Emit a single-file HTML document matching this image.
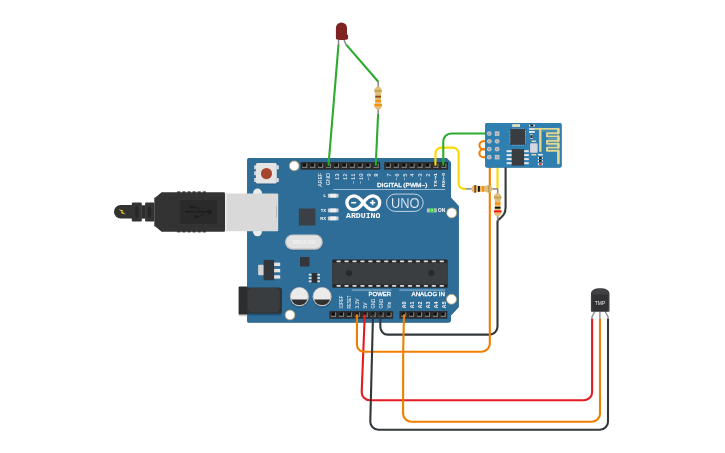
<!DOCTYPE html>
<html lang="en"><head><meta charset="utf-8"><title>Arduino ESP8266 TMP circuit</title>
<style>html,body{margin:0;padding:0;background:#fff;}body{width:725px;height:453px;overflow:hidden;}svg{display:block;will-change:transform;}text{font-family:'Liberation Sans', sans-serif;}</style>
</head><body>
<svg width="725" height="453" viewBox="0 0 725 453">
<rect width="725" height="453" fill="#fff"/>
<g id="usb">
<path d="M132,205.1 L120.7,205.1 A6.75,6.75 0 0 0 120.7,218.6 L132,218.6 Z" fill="#323232"/>
<path d="M118.56,209.13 L123.20,210.54 L122.22,211.66 L125.76,214.47 L121.00,212.92 L121.98,211.80 Z" fill="#f9e616"/>
<rect x="131.8" y="202.6" width="10" height="18.9" rx="1.2" fill="#333333"/>
<rect x="141.5" y="205.3" width="4" height="13.3" fill="#2c2c2c"/>
<rect x="145.1" y="202.6" width="9.3" height="18.9" rx="1.2" fill="#333333"/>
<ellipse cx="136.6" cy="212.0" rx="1.7" ry="6.2" fill="#262626"/>
<ellipse cx="149.6" cy="212.0" rx="1.7" ry="6.2" fill="#262626"/>
<path d="M154.3,197.6 L155.4,197.4 L161.6,192.2 L223.8,192.2 Q225,192.2 225,193.4 L225,230.6 Q225,231.8 223.8,231.8 L161.6,231.8 L155.4,226.6 L154.3,226.4 Z" fill="#333333"/>
<rect x="177.2" y="191.4" width="3.2" height="1.6" fill="#333333"/>
<rect x="177.2" y="230.8" width="3.2" height="1.6" fill="#333333"/>
<rect x="182.3" y="191.4" width="3.2" height="1.6" fill="#333333"/>
<rect x="182.3" y="230.8" width="3.2" height="1.6" fill="#333333"/>
<rect x="187.4" y="191.4" width="3.2" height="1.6" fill="#333333"/>
<rect x="187.4" y="230.8" width="3.2" height="1.6" fill="#333333"/>
<rect x="192.5" y="191.4" width="3.2" height="1.6" fill="#333333"/>
<rect x="192.5" y="230.8" width="3.2" height="1.6" fill="#333333"/>
<rect x="197.6" y="191.4" width="3.2" height="1.6" fill="#333333"/>
<rect x="197.6" y="230.8" width="3.2" height="1.6" fill="#333333"/>
<rect x="202.7" y="191.4" width="3.2" height="1.6" fill="#333333"/>
<rect x="202.7" y="230.8" width="3.2" height="1.6" fill="#333333"/>
<rect x="180" y="200.1" width="37.1" height="23.9" fill="#2a2a2a"/>
<g stroke="#1d1d1d" stroke-width="1.1" fill="none" stroke-linejoin="round" stroke-linecap="round"><path d="M186.4,211.8 L208,211.8"/><path d="M201.8,211.8 C199.4,211.8 198.6,207.4 195.6,207.3 L191.6,207.2"/><path d="M205.6,211.8 C203.0,211.8 202.6,216.4 199.6,216.5 L196,216.6"/></g>
<path d="M184.8,211.8 L187.4,210.5 L187.4,213.1 Z" fill="#1d1d1d"/>
<circle cx="209.6" cy="211.8" r="2.4" fill="#1d1d1d"/>
<circle cx="191.4" cy="207.1" r="1.5" fill="#1d1d1d"/>
<circle cx="195.8" cy="216.7" r="1.6" fill="#1d1d1d"/>
</g>
<g id="arduino">
<path d="M248.7,157.9 L446.8,157.9 L451.0,162.3 L451.0,197.6 L458.7,205.8 L458.7,306.4 L451.0,314.6 L451.0,319.0 Q451.0,322.0 448.0,322.0 L248.7,322.0 Q247.2,322.0 247.2,320.5 L247.2,159.4 Q247.2,157.9 248.7,157.9 Z" fill="#24587e" transform="translate(0 0.8)"/>
<path d="M248.7,157.9 L446.8,157.9 L451.0,162.3 L451.0,197.6 L458.7,205.8 L458.7,306.4 L451.0,314.6 L451.0,319.0 Q451.0,322.0 448.0,322.0 L248.7,322.0 Q247.2,322.0 247.2,320.5 L247.2,159.4 Q247.2,157.9 248.7,157.9 Z" fill="#2f6d99"/>
<circle cx="294.2" cy="165.9" r="4.9" fill="#fff" stroke="#b3a066" stroke-width="0.8"/>
<circle cx="451.7" cy="212.9" r="5.0" fill="#fff" stroke="#b3a066" stroke-width="0.8"/>
<circle cx="451.5" cy="299.3" r="5.0" fill="#fff" stroke="#b3a066" stroke-width="0.8"/>
<circle cx="290.0" cy="315.0" r="4.9" fill="#fff" stroke="#b3a066" stroke-width="0.8"/>
<ellipse cx="257.5" cy="193.2" rx="4.5" ry="4.7" fill="#ececec"/>
<ellipse cx="257.5" cy="231.6" rx="4.5" ry="4.7" fill="#ececec"/>
<rect x="254.2" y="165.3" width="2.4" height="4.0" rx="0.6" fill="#e2e2e2"/>
<rect x="254.2" y="171.2" width="2.4" height="4.0" rx="0.6" fill="#e2e2e2"/>
<rect x="254.2" y="178.0" width="2.4" height="4.0" rx="0.6" fill="#e2e2e2"/>
<rect x="276.2" y="165.3" width="2.6" height="4.0" rx="0.6" fill="#e2e2e2"/>
<rect x="276.2" y="178.0" width="2.6" height="4.0" rx="0.6" fill="#e2e2e2"/>
<rect x="255.9" y="163.9" width="20.9" height="20.5" rx="1.6" fill="#255a80"/>
<rect x="255.9" y="163.1" width="20.9" height="20.5" rx="1.6" fill="#e4e4e4"/>
<circle cx="266.5" cy="174.0" r="5.5" fill="#c9c9c9"/>
<circle cx="266.5" cy="173.5" r="5.5" fill="#a5452d"/>
<rect x="300.60" y="162.10" width="79.60" height="7.6" fill="#2b2b2b"/><rect x="301.96" y="163.30" width="5.3" height="4.7" fill="#343434"/><rect x="302.96" y="163.60" width="3.3" height="3.3" fill="#0e0e0e"/><path d="M302.17,167.40 L306.76,167.40 L306.76,163.60" fill="none" stroke="#7b7b7b" stroke-width="1.1"/><rect x="309.89" y="163.30" width="5.3" height="4.7" fill="#343434"/><rect x="310.89" y="163.60" width="3.3" height="3.3" fill="#0e0e0e"/><path d="M310.10,167.40 L314.69,167.40 L314.69,163.60" fill="none" stroke="#7b7b7b" stroke-width="1.1"/><rect x="317.82" y="163.30" width="5.3" height="4.7" fill="#343434"/><rect x="318.82" y="163.60" width="3.3" height="3.3" fill="#0e0e0e"/><path d="M318.03,167.40 L322.62,167.40 L322.62,163.60" fill="none" stroke="#7b7b7b" stroke-width="1.1"/><rect x="325.75" y="163.30" width="5.3" height="4.7" fill="#343434"/><rect x="326.75" y="163.60" width="3.3" height="3.3" fill="#0e0e0e"/><path d="M325.96,167.40 L330.56,167.40 L330.56,163.60" fill="none" stroke="#7b7b7b" stroke-width="1.1"/><rect x="333.69" y="163.30" width="5.3" height="4.7" fill="#343434"/><rect x="334.69" y="163.60" width="3.3" height="3.3" fill="#0e0e0e"/><path d="M333.89,167.40 L338.49,167.40 L338.49,163.60" fill="none" stroke="#7b7b7b" stroke-width="1.1"/><rect x="341.62" y="163.30" width="5.3" height="4.7" fill="#343434"/><rect x="342.62" y="163.60" width="3.3" height="3.3" fill="#0e0e0e"/><path d="M341.82,167.40 L346.42,167.40 L346.42,163.60" fill="none" stroke="#7b7b7b" stroke-width="1.1"/><rect x="349.55" y="163.30" width="5.3" height="4.7" fill="#343434"/><rect x="350.55" y="163.60" width="3.3" height="3.3" fill="#0e0e0e"/><path d="M349.75,167.40 L354.35,167.40 L354.35,163.60" fill="none" stroke="#7b7b7b" stroke-width="1.1"/><rect x="357.48" y="163.30" width="5.3" height="4.7" fill="#343434"/><rect x="358.48" y="163.60" width="3.3" height="3.3" fill="#0e0e0e"/><path d="M357.68,167.40 L362.28,167.40 L362.28,163.60" fill="none" stroke="#7b7b7b" stroke-width="1.1"/><rect x="365.40" y="163.30" width="5.3" height="4.7" fill="#343434"/><rect x="366.40" y="163.60" width="3.3" height="3.3" fill="#0e0e0e"/><path d="M365.61,167.40 L370.20,167.40 L370.20,163.60" fill="none" stroke="#7b7b7b" stroke-width="1.1"/><rect x="373.33" y="163.30" width="5.3" height="4.7" fill="#343434"/><rect x="374.33" y="163.60" width="3.3" height="3.3" fill="#0e0e0e"/><path d="M373.54,167.40 L378.13,167.40 L378.13,163.60" fill="none" stroke="#7b7b7b" stroke-width="1.1"/>
<rect x="384.20" y="162.10" width="63.74" height="7.6" fill="#2b2b2b"/><rect x="385.56" y="163.30" width="5.3" height="4.7" fill="#343434"/><rect x="386.56" y="163.60" width="3.3" height="3.3" fill="#0e0e0e"/><path d="M385.76,167.40 L390.36,167.40 L390.36,163.60" fill="none" stroke="#7b7b7b" stroke-width="1.1"/><rect x="393.49" y="163.30" width="5.3" height="4.7" fill="#343434"/><rect x="394.49" y="163.60" width="3.3" height="3.3" fill="#0e0e0e"/><path d="M393.69,167.40 L398.29,167.40 L398.29,163.60" fill="none" stroke="#7b7b7b" stroke-width="1.1"/><rect x="401.42" y="163.30" width="5.3" height="4.7" fill="#343434"/><rect x="402.42" y="163.60" width="3.3" height="3.3" fill="#0e0e0e"/><path d="M401.62,167.40 L406.22,167.40 L406.22,163.60" fill="none" stroke="#7b7b7b" stroke-width="1.1"/><rect x="409.35" y="163.30" width="5.3" height="4.7" fill="#343434"/><rect x="410.35" y="163.60" width="3.3" height="3.3" fill="#0e0e0e"/><path d="M409.56,167.40 L414.15,167.40 L414.15,163.60" fill="none" stroke="#7b7b7b" stroke-width="1.1"/><rect x="417.28" y="163.30" width="5.3" height="4.7" fill="#343434"/><rect x="418.28" y="163.60" width="3.3" height="3.3" fill="#0e0e0e"/><path d="M417.49,167.40 L422.08,167.40 L422.08,163.60" fill="none" stroke="#7b7b7b" stroke-width="1.1"/><rect x="425.21" y="163.30" width="5.3" height="4.7" fill="#343434"/><rect x="426.21" y="163.60" width="3.3" height="3.3" fill="#0e0e0e"/><path d="M425.42,167.40 L430.01,167.40 L430.01,163.60" fill="none" stroke="#7b7b7b" stroke-width="1.1"/><rect x="433.14" y="163.30" width="5.3" height="4.7" fill="#343434"/><rect x="434.14" y="163.60" width="3.3" height="3.3" fill="#0e0e0e"/><path d="M433.35,167.40 L437.94,167.40 L437.94,163.60" fill="none" stroke="#7b7b7b" stroke-width="1.1"/><rect x="441.07" y="163.30" width="5.3" height="4.7" fill="#343434"/><rect x="442.07" y="163.60" width="3.3" height="3.3" fill="#0e0e0e"/><path d="M441.27,167.40 L445.87,167.40 L445.87,163.60" fill="none" stroke="#7b7b7b" stroke-width="1.1"/>
<rect x="329.40" y="311.10" width="63.74" height="7.6" fill="#2b2b2b"/><rect x="330.76" y="312.30" width="5.3" height="4.7" fill="#343434"/><rect x="331.76" y="312.60" width="3.3" height="3.3" fill="#0e0e0e"/><path d="M330.96,316.40 L335.56,316.40 L335.56,312.60" fill="none" stroke="#7b7b7b" stroke-width="1.1"/><rect x="338.69" y="312.30" width="5.3" height="4.7" fill="#343434"/><rect x="339.69" y="312.60" width="3.3" height="3.3" fill="#0e0e0e"/><path d="M338.89,316.40 L343.49,316.40 L343.49,312.60" fill="none" stroke="#7b7b7b" stroke-width="1.1"/><rect x="346.62" y="312.30" width="5.3" height="4.7" fill="#343434"/><rect x="347.62" y="312.60" width="3.3" height="3.3" fill="#0e0e0e"/><path d="M346.82,316.40 L351.42,316.40 L351.42,312.60" fill="none" stroke="#7b7b7b" stroke-width="1.1"/><rect x="354.55" y="312.30" width="5.3" height="4.7" fill="#343434"/><rect x="355.55" y="312.60" width="3.3" height="3.3" fill="#0e0e0e"/><path d="M354.75,316.40 L359.35,316.40 L359.35,312.60" fill="none" stroke="#7b7b7b" stroke-width="1.1"/><rect x="362.48" y="312.30" width="5.3" height="4.7" fill="#343434"/><rect x="363.48" y="312.60" width="3.3" height="3.3" fill="#0e0e0e"/><path d="M362.69,316.40 L367.28,316.40 L367.28,312.60" fill="none" stroke="#7b7b7b" stroke-width="1.1"/><rect x="370.41" y="312.30" width="5.3" height="4.7" fill="#343434"/><rect x="371.41" y="312.60" width="3.3" height="3.3" fill="#0e0e0e"/><path d="M370.62,316.40 L375.21,316.40 L375.21,312.60" fill="none" stroke="#7b7b7b" stroke-width="1.1"/><rect x="378.34" y="312.30" width="5.3" height="4.7" fill="#343434"/><rect x="379.34" y="312.60" width="3.3" height="3.3" fill="#0e0e0e"/><path d="M378.55,316.40 L383.14,316.40 L383.14,312.60" fill="none" stroke="#7b7b7b" stroke-width="1.1"/><rect x="386.27" y="312.30" width="5.3" height="4.7" fill="#343434"/><rect x="387.27" y="312.60" width="3.3" height="3.3" fill="#0e0e0e"/><path d="M386.48,316.40 L391.07,316.40 L391.07,312.60" fill="none" stroke="#7b7b7b" stroke-width="1.1"/>
<rect x="399.50" y="311.10" width="47.88" height="7.6" fill="#2b2b2b"/><rect x="400.86" y="312.30" width="5.3" height="4.7" fill="#343434"/><rect x="401.86" y="312.60" width="3.3" height="3.3" fill="#0e0e0e"/><path d="M401.06,316.40 L405.66,316.40 L405.66,312.60" fill="none" stroke="#7b7b7b" stroke-width="1.1"/><rect x="408.79" y="312.30" width="5.3" height="4.7" fill="#343434"/><rect x="409.79" y="312.60" width="3.3" height="3.3" fill="#0e0e0e"/><path d="M409.00,316.40 L413.59,316.40 L413.59,312.60" fill="none" stroke="#7b7b7b" stroke-width="1.1"/><rect x="416.72" y="312.30" width="5.3" height="4.7" fill="#343434"/><rect x="417.72" y="312.60" width="3.3" height="3.3" fill="#0e0e0e"/><path d="M416.93,316.40 L421.52,316.40 L421.52,312.60" fill="none" stroke="#7b7b7b" stroke-width="1.1"/><rect x="424.65" y="312.30" width="5.3" height="4.7" fill="#343434"/><rect x="425.65" y="312.60" width="3.3" height="3.3" fill="#0e0e0e"/><path d="M424.86,316.40 L429.45,316.40 L429.45,312.60" fill="none" stroke="#7b7b7b" stroke-width="1.1"/><rect x="432.58" y="312.30" width="5.3" height="4.7" fill="#343434"/><rect x="433.58" y="312.60" width="3.3" height="3.3" fill="#0e0e0e"/><path d="M432.79,316.40 L437.38,316.40 L437.38,312.60" fill="none" stroke="#7b7b7b" stroke-width="1.1"/><rect x="440.51" y="312.30" width="5.3" height="4.7" fill="#343434"/><rect x="441.51" y="312.60" width="3.3" height="3.3" fill="#0e0e0e"/><path d="M440.72,316.40 L445.31,316.40 L445.31,312.60" fill="none" stroke="#7b7b7b" stroke-width="1.1"/>
<text transform="translate(320.43 173.00) rotate(-90)" font-size="5.1" font-weight="normal" text-anchor="end" fill="#fff" dy="0.36em" textLength="13.8" lengthAdjust="spacingAndGlyphs">AREF</text>
<text transform="translate(328.36 173.00) rotate(-90)" font-size="5.1" font-weight="normal" text-anchor="end" fill="#fff" dy="0.36em" textLength="12.2" lengthAdjust="spacingAndGlyphs">GND</text>
<text transform="translate(336.79 173.40) rotate(-90)" style="font-family:'Liberation Mono',monospace" font-size="5.6" font-weight="normal" text-anchor="end" fill="#fff" dy="0.36em">13</text>
<text transform="translate(344.72 173.40) rotate(-90)" style="font-family:'Liberation Mono',monospace" font-size="5.6" font-weight="normal" text-anchor="end" fill="#fff" dy="0.36em">12</text>
<text transform="translate(352.65 173.40) rotate(-90)" style="font-family:'Liberation Mono',monospace" font-size="5.6" font-weight="normal" text-anchor="end" fill="#fff" dy="0.36em">11</text>
<text transform="translate(360.58 173.40) rotate(-90)" style="font-family:'Liberation Mono',monospace" font-size="5.6" font-weight="normal" text-anchor="end" fill="#fff" dy="0.36em">10</text>
<text transform="translate(368.50 173.40) rotate(-90)" style="font-family:'Liberation Mono',monospace" font-size="5.6" font-weight="normal" text-anchor="end" fill="#fff" dy="0.36em">9</text>
<text transform="translate(376.44 173.40) rotate(-90)" style="font-family:'Liberation Mono',monospace" font-size="5.6" font-weight="normal" text-anchor="end" fill="#fff" dy="0.36em">8</text>
<text transform="translate(352.65 183.90) rotate(-90)" font-size="5.2" font-weight="normal" text-anchor="start" fill="#fff" dy="0.36em">~</text>
<text transform="translate(360.58 183.90) rotate(-90)" font-size="5.2" font-weight="normal" text-anchor="start" fill="#fff" dy="0.36em">~</text>
<text transform="translate(368.50 180.40) rotate(-90)" font-size="5.2" font-weight="normal" text-anchor="start" fill="#fff" dy="0.36em">~</text>
<text transform="translate(388.66 173.40) rotate(-90)" style="font-family:'Liberation Mono',monospace" font-size="5.6" font-weight="normal" text-anchor="end" fill="#fff" dy="0.36em">7</text>
<text transform="translate(396.59 173.40) rotate(-90)" style="font-family:'Liberation Mono',monospace" font-size="5.6" font-weight="normal" text-anchor="end" fill="#fff" dy="0.36em">6</text>
<text transform="translate(404.52 173.40) rotate(-90)" style="font-family:'Liberation Mono',monospace" font-size="5.6" font-weight="normal" text-anchor="end" fill="#fff" dy="0.36em">5</text>
<text transform="translate(412.45 173.40) rotate(-90)" style="font-family:'Liberation Mono',monospace" font-size="5.6" font-weight="normal" text-anchor="end" fill="#fff" dy="0.36em">4</text>
<text transform="translate(420.38 173.40) rotate(-90)" style="font-family:'Liberation Mono',monospace" font-size="5.6" font-weight="normal" text-anchor="end" fill="#fff" dy="0.36em">3</text>
<text transform="translate(428.31 173.40) rotate(-90)" style="font-family:'Liberation Mono',monospace" font-size="5.6" font-weight="normal" text-anchor="end" fill="#fff" dy="0.36em">2</text>
<text transform="translate(396.59 180.40) rotate(-90)" font-size="5.2" font-weight="normal" text-anchor="start" fill="#fff" dy="0.36em">~</text>
<text transform="translate(404.52 180.40) rotate(-90)" font-size="5.2" font-weight="normal" text-anchor="start" fill="#fff" dy="0.36em">~</text>
<text transform="translate(420.38 180.40) rotate(-90)" font-size="5.2" font-weight="normal" text-anchor="start" fill="#fff" dy="0.36em">~</text>
<text transform="translate(435.75 173.00) rotate(-90)" font-size="4.4" font-weight="bold" text-anchor="end" fill="#fff" dy="0.36em" textLength="14.0" lengthAdjust="spacingAndGlyphs">TX<tspan style="font-family:'DejaVu Sans',sans-serif" font-size="4.4">→</tspan>1</text>
<text transform="translate(443.67 173.00) rotate(-90)" font-size="4.4" font-weight="bold" text-anchor="end" fill="#fff" dy="0.36em" textLength="14.0" lengthAdjust="spacingAndGlyphs">RX<tspan style="font-family:'DejaVu Sans',sans-serif" font-size="4.4">←</tspan>0</text>
<text transform="translate(341.29 308.40) rotate(-90)" font-size="4.9" font-weight="normal" text-anchor="start" fill="#fff" fill-opacity="0.92" dy="0.36em" textLength="12.8" lengthAdjust="spacingAndGlyphs">IOREF</text>
<text transform="translate(349.22 308.40) rotate(-90)" font-size="4.9" font-weight="normal" text-anchor="start" fill="#fff" fill-opacity="0.92" dy="0.36em" textLength="12.8" lengthAdjust="spacingAndGlyphs">RESET</text>
<text transform="translate(357.15 308.40) rotate(-90)" font-size="4.9" font-weight="normal" text-anchor="start" fill="#fff" fill-opacity="0.92" dy="0.36em" textLength="9.9" lengthAdjust="spacingAndGlyphs">3.3V</text>
<text transform="translate(365.08 308.40) rotate(-90)" font-size="4.9" font-weight="normal" text-anchor="start" fill="#fff" fill-opacity="0.92" dy="0.36em" textLength="5.9" lengthAdjust="spacingAndGlyphs">5V</text>
<text transform="translate(373.01 308.40) rotate(-90)" font-size="4.9" font-weight="normal" text-anchor="start" fill="#fff" fill-opacity="0.92" dy="0.36em" textLength="9.6" lengthAdjust="spacingAndGlyphs">GND</text>
<text transform="translate(380.94 308.40) rotate(-90)" font-size="4.9" font-weight="normal" text-anchor="start" fill="#fff" fill-opacity="0.92" dy="0.36em" textLength="9.6" lengthAdjust="spacingAndGlyphs">GND</text>
<text transform="translate(388.88 308.40) rotate(-90)" font-size="4.9" font-weight="normal" text-anchor="start" fill="#fff" fill-opacity="0.92" dy="0.36em" textLength="6.6" lengthAdjust="spacingAndGlyphs">Vin</text>
<text transform="translate(404.16 308.40) rotate(-90)" font-size="5.3" font-weight="bold" text-anchor="start" fill="#fff" fill-opacity="0.95" dy="0.36em" textLength="6.9" lengthAdjust="spacingAndGlyphs">A0</text>
<text transform="translate(412.09 308.40) rotate(-90)" font-size="5.3" font-weight="bold" text-anchor="start" fill="#fff" fill-opacity="0.95" dy="0.36em" textLength="6.9" lengthAdjust="spacingAndGlyphs">A1</text>
<text transform="translate(420.02 308.40) rotate(-90)" font-size="5.3" font-weight="bold" text-anchor="start" fill="#fff" fill-opacity="0.95" dy="0.36em" textLength="6.9" lengthAdjust="spacingAndGlyphs">A2</text>
<text transform="translate(427.95 308.40) rotate(-90)" font-size="5.3" font-weight="bold" text-anchor="start" fill="#fff" fill-opacity="0.95" dy="0.36em" textLength="6.9" lengthAdjust="spacingAndGlyphs">A3</text>
<text transform="translate(435.88 308.40) rotate(-90)" font-size="5.3" font-weight="bold" text-anchor="start" fill="#fff" fill-opacity="0.95" dy="0.36em" textLength="6.9" lengthAdjust="spacingAndGlyphs">A4</text>
<text transform="translate(443.81 308.40) rotate(-90)" font-size="5.3" font-weight="bold" text-anchor="start" fill="#fff" fill-opacity="0.95" dy="0.36em" textLength="6.9" lengthAdjust="spacingAndGlyphs">A5</text>
<text x="427.50" y="187.00" font-size="6.0" font-weight="normal" text-anchor="end" fill="#fff" textLength="50.6" lengthAdjust="spacingAndGlyphs" stroke="#fff" stroke-width="0.28">DIGITAL (PWM~)</text>
<rect x="333.4" y="189.0" width="111.8" height="0.9" fill="#a9c4d8"/>
<rect x="351.6" y="289.6" width="39.8" height="0.9" fill="#a9c4d8"/>
<rect x="399.4" y="289.6" width="45.6" height="0.9" fill="#a9c4d8"/>
<text x="391.20" y="296.40" font-size="5.7" font-weight="normal" text-anchor="end" fill="#fff" textLength="22.6" lengthAdjust="spacingAndGlyphs" stroke="#fff" stroke-width="0.28">POWER</text>
<text x="445.00" y="296.40" font-size="5.7" font-weight="normal" text-anchor="end" fill="#fff" textLength="33.4" lengthAdjust="spacingAndGlyphs" stroke="#fff" stroke-width="0.28">ANALOG IN</text>
<rect x="327.9" y="193.8" width="10.6" height="3.8" fill="#c9d3da"/>
<rect x="330.2" y="193.8" width="6" height="3.8" fill="#efefef"/>
<text x="326.00" y="197.20" font-size="4.2" font-weight="bold" text-anchor="end" fill="#fff" >L</text>
<rect x="327.9" y="208.5" width="10.6" height="3.8" fill="#c9d3da"/>
<rect x="330.2" y="208.5" width="6" height="3.8" fill="#efefef"/>
<text x="326.00" y="211.90" font-size="4.2" font-weight="bold" text-anchor="end" fill="#fff" >TX</text>
<rect x="327.9" y="216.5" width="10.6" height="3.8" fill="#c9d3da"/>
<rect x="330.2" y="216.5" width="6" height="3.8" fill="#efefef"/>
<text x="326.00" y="219.90" font-size="4.2" font-weight="bold" text-anchor="end" fill="#fff" >RX</text>
<rect x="426.9" y="208.4" width="9.9" height="4.0" fill="#b9c1c6"/>
<rect x="429.7" y="208.4" width="4.6" height="4.0" fill="#2fcf3a"/>
<rect x="431.2" y="209.4" width="1.6" height="2.0" fill="#a8f5a8"/>
<text x="438.00" y="212.10" font-size="4.8" font-weight="bold" text-anchor="start" fill="#fff" >ON</text>
<rect x="298.9" y="208.5" width="16.5" height="17" fill="#3a4045"/>
<rect x="285.0" y="235.2" width="37.8" height="15.3" rx="7.6" fill="#255a80"/>
<rect x="285.0" y="234.4" width="37.8" height="15.3" rx="7.6" fill="#c6c6c6"/>
<rect x="286.3" y="235.6" width="35.2" height="12.6" rx="6.3" fill="#e2e2e2"/>
<text x="304.00" y="243.80" font-size="4.6" font-weight="normal" text-anchor="middle" fill="#f6f6f6" >SPK16.000</text>
<g fill="none" stroke="#fff" stroke-width="3.3"><path d="M363.3,202.7 C360.3,198.3 357.6,195.8 353.8,195.8 A6.9,6.9 0 0 0 353.8,209.6 C357.6,209.6 360.3,207.0 363.3,202.7 C366.3,198.3 369.0,195.8 372.8,195.8 A6.9,6.9 0 0 1 372.8,209.6 C369.0,209.6 366.3,207.0 363.3,202.7 Z"/></g>
<rect x="351.2" y="201.9" width="5.0" height="1.6" fill="#fff"/>
<rect x="370.0" y="201.9" width="5.2" height="1.6" fill="#fff"/>
<rect x="371.8" y="200.1" width="1.6" height="5.2" fill="#fff"/>
<text x="363.2" y="218.4" style="font-family:'Liberation Mono',monospace" font-size="7.2" font-weight="bold" text-anchor="middle" fill="#fff" textLength="34.4" lengthAdjust="spacingAndGlyphs">ARDUINO</text>
<rect x="386.5" y="194.1" width="36.7" height="17.3" rx="8.65" fill="none" stroke="#fff" stroke-width="0.7"/>
<text x="405.20" y="208.00" font-size="14.6" font-weight="normal" text-anchor="middle" fill="#fff" textLength="28.6" lengthAdjust="spacingAndGlyphs" stroke="#2f6d99" stroke-width="0.25">UNO</text>
<rect x="332.3" y="259.4" width="115.4" height="28.3" rx="0.8" fill="#272728"/>
<rect x="332.3" y="262.8" width="115.4" height="21.6" fill="#3b3e41"/>
<rect x="336.45" y="260.5" width="4.4" height="1.8" rx="0.8" fill="#dcdcdc"/>
<rect x="336.45" y="284.9" width="4.4" height="1.8" rx="0.8" fill="#dcdcdc"/>
<rect x="344.38" y="260.5" width="4.4" height="1.8" rx="0.8" fill="#dcdcdc"/>
<rect x="344.38" y="284.9" width="4.4" height="1.8" rx="0.8" fill="#dcdcdc"/>
<rect x="352.31" y="260.5" width="4.4" height="1.8" rx="0.8" fill="#dcdcdc"/>
<rect x="352.31" y="284.9" width="4.4" height="1.8" rx="0.8" fill="#dcdcdc"/>
<rect x="360.25" y="260.5" width="4.4" height="1.8" rx="0.8" fill="#dcdcdc"/>
<rect x="360.25" y="284.9" width="4.4" height="1.8" rx="0.8" fill="#dcdcdc"/>
<rect x="368.18" y="260.5" width="4.4" height="1.8" rx="0.8" fill="#dcdcdc"/>
<rect x="368.18" y="284.9" width="4.4" height="1.8" rx="0.8" fill="#dcdcdc"/>
<rect x="376.11" y="260.5" width="4.4" height="1.8" rx="0.8" fill="#dcdcdc"/>
<rect x="376.11" y="284.9" width="4.4" height="1.8" rx="0.8" fill="#dcdcdc"/>
<rect x="384.04" y="260.5" width="4.4" height="1.8" rx="0.8" fill="#dcdcdc"/>
<rect x="384.04" y="284.9" width="4.4" height="1.8" rx="0.8" fill="#dcdcdc"/>
<rect x="391.96" y="260.5" width="4.4" height="1.8" rx="0.8" fill="#dcdcdc"/>
<rect x="391.96" y="284.9" width="4.4" height="1.8" rx="0.8" fill="#dcdcdc"/>
<rect x="399.89" y="260.5" width="4.4" height="1.8" rx="0.8" fill="#dcdcdc"/>
<rect x="399.89" y="284.9" width="4.4" height="1.8" rx="0.8" fill="#dcdcdc"/>
<rect x="407.82" y="260.5" width="4.4" height="1.8" rx="0.8" fill="#dcdcdc"/>
<rect x="407.82" y="284.9" width="4.4" height="1.8" rx="0.8" fill="#dcdcdc"/>
<rect x="415.75" y="260.5" width="4.4" height="1.8" rx="0.8" fill="#dcdcdc"/>
<rect x="415.75" y="284.9" width="4.4" height="1.8" rx="0.8" fill="#dcdcdc"/>
<rect x="423.69" y="260.5" width="4.4" height="1.8" rx="0.8" fill="#dcdcdc"/>
<rect x="423.69" y="284.9" width="4.4" height="1.8" rx="0.8" fill="#dcdcdc"/>
<rect x="431.62" y="260.5" width="4.4" height="1.8" rx="0.8" fill="#dcdcdc"/>
<rect x="431.62" y="284.9" width="4.4" height="1.8" rx="0.8" fill="#dcdcdc"/>
<rect x="439.55" y="260.5" width="4.4" height="1.8" rx="0.8" fill="#dcdcdc"/>
<rect x="439.55" y="284.9" width="4.4" height="1.8" rx="0.8" fill="#dcdcdc"/>
<circle cx="349.0" cy="273.1" r="3.0" fill="#28292b"/>
<circle cx="431.4" cy="273.1" r="3.0" fill="#28292b"/>
<rect x="258.1" y="264.7" width="6" height="10.6" rx="1" fill="#d2d2d2"/>
<rect x="273.5" y="262.6" width="6.7" height="3.4" fill="#e2e2e2"/>
<rect x="273.5" y="268.9" width="6.7" height="3.4" fill="#e2e2e2"/>
<rect x="273.5" y="275.2" width="6.7" height="3.4" fill="#e2e2e2"/>
<rect x="263.6" y="259.9" width="10.5" height="20.3" fill="#33363a"/>
<rect x="300.0" y="257.0" width="9.5" height="9.5" fill="#33373b"/>
<rect x="308.8" y="273.8" width="11.1" height="1.8" fill="#e0e0e0"/>
<rect x="308.8" y="277.1" width="11.1" height="1.8" fill="#e0e0e0"/>
<rect x="308.8" y="280.4" width="11.1" height="1.8" fill="#e0e0e0"/>
<rect x="311.6" y="273.1" width="5.7" height="9.8" fill="#2c2e30"/>
<circle cx="299.4" cy="298.2" r="9.7" fill="#245980"/>
<circle cx="299.4" cy="296.7" r="9.6" fill="#bfbfbf"/>
<circle cx="299.4" cy="296.2" r="8.4" fill="#ebebeb"/>
<path d="M291.50,299.4 A8.4,8.4 0 0 0 307.30,299.4 Z" fill="#303030"/>
<circle cx="322.1" cy="298.2" r="9.7" fill="#245980"/>
<circle cx="322.1" cy="296.7" r="9.6" fill="#bfbfbf"/>
<circle cx="322.1" cy="296.2" r="8.4" fill="#ebebeb"/>
<path d="M314.20,299.4 A8.4,8.4 0 0 0 330.00,299.4 Z" fill="#303030"/>
<rect x="238.6" y="313.0" width="8.4" height="3.2" rx="0.8" fill="#cfcfcf"/>
<rect x="246.6" y="289.0" width="35.4" height="26.2" rx="3" fill="#1f4f73"/>
<rect x="238.6" y="286.4" width="9" height="28.0" rx="1" fill="#2b2d2f"/>
<rect x="246.6" y="287.5" width="35.4" height="26.0" rx="2.5" fill="#303234"/>
<rect x="247.6" y="288.0" width="32.2" height="24.6" rx="5" fill="#3a3d3f"/>
<rect x="225.6" y="193.4" width="52.6" height="37.8" rx="1" fill="#d9d9d9"/>
<rect x="225.6" y="193.4" width="1.2" height="37.8" fill="#e8e8e8"/>
<rect x="276.0" y="206.2" width="0.7" height="11.4" fill="#a9a9a9"/>
</g>
<g id="wires">
<path d="M338.5,44.6 L328.46,165.8" fill="none" stroke="#2dab2d" stroke-width="2.1" stroke-linecap="butt" stroke-linejoin="round"/>
<path d="M346.2,44.6 L378.3,81.8" fill="none" stroke="#2dab2d" stroke-width="2.1" stroke-linecap="butt" stroke-linejoin="round"/>
<path d="M378.1,114.0 L375.74,165.8" fill="none" stroke="#2dab2d" stroke-width="2.1" stroke-linecap="butt" stroke-linejoin="round"/>
<path d="M435.44,165.8 L435.44,153.4 A5.8,5.8 0 0 1 441.25,147.6 L452.8,147.6 A5.8,5.8 0 0 1 458.6,153.4 L458.6,183.4 A5.5,5.5 0 0 0 464.1,188.9 L466.2,188.9" fill="none" stroke="#ffd800" stroke-width="2.1" stroke-linecap="butt" stroke-linejoin="round"/>
<path d="M497.5,157 L497.5,189" fill="none" stroke="#ffd800" stroke-width="2.1" stroke-linecap="butt" stroke-linejoin="round"/>
<path d="M443.27,165.8 L443.27,141.5 A8,8 0 0 1 451.27,133.5 L489.3,133.5" fill="none" stroke="#2dab2d" stroke-width="2.1" stroke-linecap="butt" stroke-linejoin="round"/>
<path d="M364.78,314.3 L361.7,392 A8,8 0 0 0 369.7,400.2 L584.1,400.2 A8,8 0 0 0 592.1,392.2 L592.1,318.6" fill="none" stroke="#e41a1e" stroke-width="2.1" stroke-linecap="butt" stroke-linejoin="round"/>
<path d="M380.34,314.3 L380.34,327.1 A7.5,7.5 0 0 0 387.84,334.6 L489.5,334.6 A8,8 0 0 0 497.5,326.6 L497.5,220.4" fill="none" stroke="#33383b" stroke-width="2.1" stroke-linecap="butt" stroke-linejoin="round"/>
<path d="M505.6,157 L505.6,207.5 C505.6,213.5 503.3,215.8 497.6,220.6" fill="none" stroke="#33383b" stroke-width="2.1" stroke-linecap="butt" stroke-linejoin="round"/>
<path d="M356.95,314.3 L356.95,344.7 A7,7 0 0 0 363.95,351.7 L481.8,351.7 A8,8 0 0 0 489.8,343.7 L489.8,157" fill="none" stroke="#f07f00" stroke-width="2.1" stroke-linecap="butt" stroke-linejoin="round"/>
<path d="M489.3,141.3 L483.4,141.3 A3.95,3.95 0 0 0 483.4,149.2 L489.3,149.2" fill="none" stroke="#f07f00" stroke-width="2.1" stroke-linecap="butt" stroke-linejoin="round"/>
<path d="M489.3,149.2 L483.4,149.2 A4,4 0 0 0 483.4,157.2 L489.3,157.2" fill="none" stroke="#f07f00" stroke-width="2.1" stroke-linecap="butt" stroke-linejoin="round"/>
<path d="M373.01,314.3 L370.3,421.6 A8,8 0 0 0 378.3,429.7 L600,429.7 A8,8 0 0 0 608,421.7 L608,318.6" fill="none" stroke="#33383b" stroke-width="2.1" stroke-linecap="butt" stroke-linejoin="round"/>
<path d="M404.00,314.3 L403.2,350 L403.1,413.7 A8,8 0 0 0 411.1,421.7 L592,421.7 A8,8 0 0 0 600,413.7 L600,318.6" fill="none" stroke="#f07f00" stroke-width="2.1" stroke-linecap="butt" stroke-linejoin="round"/>
</g>
<g id="resistors">
<path d="M378.2,81.4 L378.2,114.4" stroke="#868686" stroke-width="1.5" fill="none"/>
<g transform="translate(378.10 98.20) rotate(0)"><path d="M0,-11.60 C1.52,-11.60 3.80,-9.60 3.80,-7.50 C3.80,-6.00 2.85,-5.40 2.85,-4.20 L2.85,4.20 C2.85,5.40 3.80,6.00 3.80,7.70 C3.80,9.60 1.52,11.60 0,11.60 C-1.52,11.60 -3.80,9.60 -3.80,7.50 C-3.80,6.00 -2.85,5.40 -2.85,4.20 L-2.85,-4.20 C-2.85,-5.40 -3.80,-6.00 -3.80,-7.70 C-3.80,-9.60 -1.52,-11.60 0,-11.60 Z" fill="#e3bd7c"/><rect x="-3.50" y="-8.05" width="7.00" height="1.7" fill="#b8a350"/><rect x="-2.85" y="-2.45" width="5.70" height="1.9" fill="#8a4a12"/><rect x="-2.85" y="1.75" width="5.70" height="1.9" fill="#ff8c00"/><rect x="-3.75" y="5.95" width="7.50" height="1.9" fill="#ff8c00"/></g>
<path d="M466,188.9 L497.7,188.9" stroke="#868686" stroke-width="1.5" fill="none"/>
<g transform="translate(481.80 188.90) rotate(-90)"><path d="M0,-10.80 C1.52,-10.80 3.80,-8.80 3.80,-6.70 C3.80,-5.20 2.85,-4.60 2.85,-3.40 L2.85,3.40 C2.85,4.60 3.80,5.20 3.80,6.90 C3.80,8.80 1.52,10.80 0,10.80 C-1.52,10.80 -3.80,8.80 -3.80,6.70 C-3.80,5.20 -2.85,4.60 -2.85,3.40 L-2.85,-3.40 C-2.85,-4.60 -3.80,-5.20 -3.80,-6.90 C-3.80,-8.80 -1.52,-10.80 0,-10.80 Z" fill="#e3bd7c"/><rect x="-3.75" y="-7.55" width="7.50" height="1.9" fill="#8a4a12"/><rect x="-2.85" y="-3.85" width="5.70" height="1.9" fill="#111"/><rect x="-2.85" y="0.35" width="5.70" height="1.9" fill="#ff8c00"/><rect x="-3.50" y="6.15" width="7.00" height="1.7" fill="#b8a350"/></g>
<path d="M497.7,188.9 L497.7,220.6" stroke="#868686" stroke-width="1.5" fill="none"/>
<g transform="translate(497.70 204.80) rotate(0)"><path d="M0,-11.70 C1.52,-11.70 3.80,-9.70 3.80,-7.60 C3.80,-6.10 2.85,-5.50 2.85,-4.30 L2.85,4.30 C2.85,5.50 3.80,6.10 3.80,7.80 C3.80,9.70 1.52,11.70 0,11.70 C-1.52,11.70 -3.80,9.70 -3.80,7.60 C-3.80,6.10 -2.85,5.50 -2.85,4.30 L-2.85,-4.30 C-2.85,-5.50 -3.80,-6.10 -3.80,-7.80 C-3.80,-9.70 -1.52,-11.70 0,-11.70 Z" fill="#e3bd7c"/><rect x="-3.50" y="-8.15" width="7.00" height="1.7" fill="#b8a350"/><rect x="-2.85" y="-2.15" width="5.70" height="1.9" fill="#ff8c00"/><rect x="-2.85" y="1.95" width="5.70" height="1.9" fill="#111"/><rect x="-3.75" y="5.65" width="7.50" height="1.9" fill="#f01414"/></g>
</g>
<g id="led">
<path d="M338.5,38.5 L338.5,45.2" stroke="#868686" stroke-width="1.5" fill="none"/>
<path d="M344.4,38.5 L344.4,41 L346.3,45" stroke="#868686" stroke-width="1.5" fill="none"/>
<path d="M335.9,38.4 L335.9,28.0 A5.55,5.55 0 0 1 347.0,28.0 L347.0,34.8 L348.1,34.8 L348.1,38.4 C348.1,39.4 345,40.0 342,40.0 C339,40.0 335.9,39.4 335.9,38.4 Z" fill="#7f2222"/>
</g>
<g id="esp">
<rect x="485.2" y="123.1" width="76.4" height="44.7" rx="1.8" fill="#286e9a"/>
<rect x="485.2" y="123.1" width="76.4" height="44.1" rx="1.8" fill="#2f7fb1"/>
<circle cx="489.3" cy="133.6" r="2.4" fill="#c0c3c6"/>
<circle cx="489.3" cy="133.6" r="1.1" fill="#a3a6a9"/>
<rect x="494.8" y="131.3" width="4.6" height="4.6" fill="#c0c3c6"/>
<circle cx="497.1" cy="133.6" r="1.1" fill="#a3a6a9"/>
<circle cx="489.3" cy="141.3" r="2.4" fill="#c0c3c6"/>
<circle cx="489.3" cy="141.3" r="1.1" fill="#a3a6a9"/>
<circle cx="497.1" cy="141.3" r="2.4" fill="#c0c3c6"/>
<circle cx="497.1" cy="141.3" r="1.1" fill="#a3a6a9"/>
<circle cx="489.3" cy="149.2" r="2.4" fill="#c0c3c6"/>
<circle cx="489.3" cy="149.2" r="1.1" fill="#a3a6a9"/>
<circle cx="497.1" cy="149.2" r="2.4" fill="#c0c3c6"/>
<circle cx="497.1" cy="149.2" r="1.1" fill="#a3a6a9"/>
<circle cx="489.3" cy="157.2" r="2.4" fill="#c0c3c6"/>
<circle cx="489.3" cy="157.2" r="1.1" fill="#a3a6a9"/>
<rect x="494.8" y="154.9" width="4.6" height="4.6" fill="#c0c3c6"/>
<circle cx="497.1" cy="157.2" r="1.1" fill="#a3a6a9"/>
<rect x="512.2" y="124.3" width="7.8" height="2.5" fill="#e8e8e8"/><rect x="513.8" y="124.3" width="4.6" height="2.5" fill="#e4d9a4"/>
<rect x="529.0" y="124.4" width="5.8" height="2.1" rx="0.6" fill="#e8e8e8"/><rect x="530.3" y="124.4" width="3.0" height="2.1" fill="#222"/>
<rect x="529.0" y="128.1" width="5.8" height="1.8" fill="#e6e6e6"/>
<rect x="529.0" y="131.0" width="5.8" height="1.9" fill="#e6e6e6"/>
<rect x="530.4" y="134.2" width="2.0" height="4.7" fill="#e6e6e6"/><rect x="530.4" y="135.2" width="2.0" height="2.7" fill="#222"/>
<rect x="531.5" y="140.5" width="4.7" height="1.5" rx="0.6" fill="#e4d9a4"/>
<rect x="530.1" y="143.2" width="7.5" height="9.6" rx="0.8" fill="#d6d6de"/>
<rect x="531.3" y="153.9" width="4.9" height="1.6" rx="0.6" fill="#e4d9a4"/>
<rect x="537.9" y="153.9" width="4.9" height="1.7" fill="#e6e6e6"/>
<rect x="537.9" y="157.0" width="4.9" height="1.9" fill="#e6e6e6"/><rect x="539.0" y="157.0" width="2.7" height="1.9" fill="#222"/>
<rect x="537.9" y="160.0" width="4.9" height="1.9" fill="#e6e6e6"/><rect x="539.0" y="160.0" width="2.7" height="1.9" fill="#222"/>
<rect x="537.9" y="163.1" width="4.9" height="2.2" fill="#e6e6e6"/><rect x="539.0" y="163.1" width="2.7" height="2.2" fill="#e03030"/>
<rect x="512.30" y="128.2" width="1.0" height="17.4" fill="#8fb8d4"/>
<rect x="509.5" y="131.00" width="16.4" height="1.0" fill="#8fb8d4"/>
<rect x="514.45" y="128.2" width="1.0" height="17.4" fill="#8fb8d4"/>
<rect x="509.5" y="133.15" width="16.4" height="1.0" fill="#8fb8d4"/>
<rect x="516.60" y="128.2" width="1.0" height="17.4" fill="#8fb8d4"/>
<rect x="509.5" y="135.30" width="16.4" height="1.0" fill="#8fb8d4"/>
<rect x="518.75" y="128.2" width="1.0" height="17.4" fill="#8fb8d4"/>
<rect x="509.5" y="137.45" width="16.4" height="1.0" fill="#8fb8d4"/>
<rect x="520.90" y="128.2" width="1.0" height="17.4" fill="#8fb8d4"/>
<rect x="509.5" y="139.60" width="16.4" height="1.0" fill="#8fb8d4"/>
<rect x="523.05" y="128.2" width="1.0" height="17.4" fill="#8fb8d4"/>
<rect x="509.5" y="141.75" width="16.4" height="1.0" fill="#8fb8d4"/>
<rect x="510.3" y="128.9" width="14.7" height="15.9" fill="#3a3d40"/>
<rect x="506.6" y="150.2" width="22.2" height="2.0" fill="#e8e8e8"/>
<rect x="506.6" y="154.1" width="22.2" height="2.0" fill="#e8e8e8"/>
<rect x="506.6" y="158.1" width="22.2" height="2.0" fill="#e8e8e8"/>
<rect x="506.6" y="162.2" width="22.2" height="2.0" fill="#e8e8e8"/>
<rect x="511.7" y="149.1" width="12.4" height="16.5" fill="#3a3d40"/>
<rect x="541.8" y="130.55" width="15.4" height="1.0" fill="#66a0b2"/>
<rect x="548.0" y="138.05" width="9.2" height="1.0" fill="#66a0b2"/>
<rect x="548.0" y="145.20" width="9.2" height="1.0" fill="#66a0b2"/>
<path d="M535.2,128.90 L558.3,128.90 L558.3,133.20 L547.0,133.20 L547.0,136.40 L558.3,136.40 L558.3,140.70 L547.0,140.70 L547.0,143.80 L558.3,143.80 L558.3,147.60 L547.0,147.60 L547.0,150.80 L558.3,150.80 L558.3,163.0" fill="none" stroke="#e4d68f" stroke-width="1.9" stroke-linejoin="round" stroke-linecap="round"/>
<path d="M558.4,128.9 L558.4,133.2 M558.4,136.4 L558.4,140.7 M558.4,143.8 L558.4,147.6 M558.4,150.8 L558.4,163.0" fill="none" stroke="#e4d68f" stroke-width="2.5" stroke-linecap="round"/>
<path d="M540.3,128.9 L540.3,150.8" fill="none" stroke="#e4d68f" stroke-width="2.4" stroke-linecap="round"/>
</g>
<g id="tmp">
<path d="M594.9,311.4 L592,316.6 L592,318.8" stroke="#959595" stroke-width="1.5" fill="none"/>
<path d="M599.9,311.4 L599.9,318.8" stroke="#959595" stroke-width="1.5" fill="none"/>
<path d="M605.0,311.4 L608,316.6 L608,318.8" stroke="#959595" stroke-width="1.5" fill="none"/>
<path d="M590.9,311.1 L590.9,294.0 C590.9,290.2 594.4,288.2 600.2,288.2 C606.0,288.2 609.5,290.2 609.5,294.0 L609.5,311.1 Q609.5,311.8 608.8,311.8 L591.6,311.8 Q590.9,311.8 590.9,311.1 Z" fill="#414143"/>
<rect x="592.3" y="294.6" width="15.8" height="16.6" fill="#323234"/>
<text x="600.10" y="305.00" font-size="6.1" font-weight="normal" text-anchor="middle" fill="#e8e8e8" textLength="10.6" lengthAdjust="spacingAndGlyphs">TMP</text>
</g>
</svg>
</body></html>
